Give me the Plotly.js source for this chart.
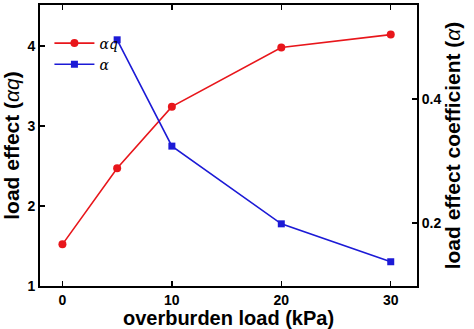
<!DOCTYPE html>
<html><head><meta charset="utf-8">
<script src="https://cdn.plot.ly/plotly-3.0.1.min.js"></script>
<style>html,body{margin:0;padding:0;background:#fff}#chart{width:474px;height:329px}</style>
</head><body><div id="chart"></div>
<script>
const loadX = [0, 5, 10, 20, 30];
const loadEffect = [1.52, 2.47, 3.24, 3.98, 4.14];
const alphaX = [5, 10, 20, 30];
const alphaCoef = [0.495, 0.324, 0.199, 0.138];
const xTicks = [0, 10, 20, 30];
const y1Ticks = [1, 2, 3, 4];
const y2Ticks = [0.2, 0.4];

const red = '#e8161b', blue = '#1c1ad6';
const traces = [
  {x: loadX, y: loadEffect, type: 'scatter', mode: 'lines+markers', name: '<i>αq</i>',
   line: {color: red, width: 1.6}, marker: {color: red, symbol: 'circle', size: 8}},
  {x: alphaX, y: alphaCoef, type: 'scatter', mode: 'lines+markers', name: '<i>α</i>', yaxis: 'y2',
   line: {color: blue, width: 1.6}, marker: {color: blue, symbol: 'square', size: 7}}
];
const tickFont = {family: 'Liberation Sans, Arial, sans-serif', size: 14, color: '#000', weight: 'bold'};
const titleFont = {family: 'Liberation Sans, Arial, sans-serif', size: 21, color: '#000', weight: 'bold'};
const xTitleFont = {family: 'Liberation Sans, Arial, sans-serif', size: 20, color: '#000', weight: 'bold'};
const layout = {
  width: 474, height: 329,
  margin: {l: 40, r: 57, t: 5, b: 43},
  paper_bgcolor: '#fff', plot_bgcolor: '#fff',
  showlegend: true,
  legend: {x: 0.025, y: 0.92, xanchor: 'left', yanchor: 'top', bgcolor: 'rgba(0,0,0,0)',
    font: {family: 'DejaVu Serif, serif', size: 14, color: '#000'}, tracegroupgap: 0, itemwidth: 40},
  xaxis: {range: [-2.05, 32.4], tickvals: xTicks, ticktext: xTicks.map(String),
    ticks: 'inside', ticklen: 5, tickwidth: 1.5, tickcolor: '#000', mirror: 'ticks',
    showline: true, linecolor: '#000', linewidth: 2, showgrid: false, zeroline: false,
    tickfont: tickFont, automargin: false,
    title: {text: 'overburden load (kPa)', font: xTitleFont, standoff: 1}},
  yaxis: {range: [1, 4.51], tickvals: y1Ticks, ticktext: y1Ticks.map(String),
    ticks: 'inside', ticklen: 5, tickwidth: 1.5, tickcolor: '#000',
    showline: true, linecolor: '#000', linewidth: 2, showgrid: false, zeroline: false,
    tickfont: tickFont,
    title: {text: 'load effect (<i style="font-weight:normal">αq</i>)', font: titleFont, standoff: 4}},
  yaxis2: {overlaying: 'y', side: 'right', range: [0.099, 0.551], tickvals: y2Ticks, ticktext: ['0.2', '0.4'],
    ticks: 'inside', ticklen: 5, tickwidth: 1.5, tickcolor: '#000',
    showline: true, linecolor: '#000', linewidth: 2, showgrid: false, zeroline: false,
    tickfont: tickFont,
    title: {text: 'load effect coefficient (<i style="font-weight:normal">α</i>)', font: titleFont, standoff: 4}}
};
Plotly.newPlot('chart', traces, layout, {displayModeBar: false, staticPlot: true});
</script></body></html>
